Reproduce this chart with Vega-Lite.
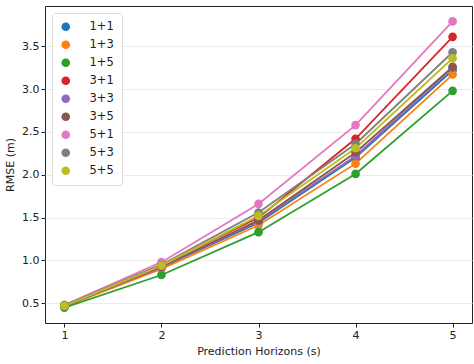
{
  "$schema": "https://vega.github.io/schema/vega-lite/v6.json",
  "width": 427,
  "height": 317,
  "autosize": {"type": "none"},
  "padding": {"left": 45, "top": 6, "right": 2, "bottom": 41},
  "background": "white",
  "config": {
    "font": "DejaVu Sans",
    "view": {"stroke": "#222222", "strokeWidth": 1},
    "axis": {"labelFont": "DejaVu Sans", "titleFont": "DejaVu Sans", "labelFontSize": 11, "titleFontSize": 11, "titleFontWeight": "normal", "labelColor": "#222", "titleColor": "#222", "tickColor": "#222", "domain": false, "tickSize": 4}
  },
  "data": {
    "values": [
      {"h": 1, "s": "1+1", "rmse": 0.47}, {"h": 2, "s": "1+1", "rmse": 0.92}, {"h": 3, "s": "1+1", "rmse": 1.44}, {"h": 4, "s": "1+1", "rmse": 2.2}, {"h": 5, "s": "1+1", "rmse": 3.22},
      {"h": 1, "s": "1+3", "rmse": 0.46}, {"h": 2, "s": "1+3", "rmse": 0.9}, {"h": 3, "s": "1+3", "rmse": 1.41}, {"h": 4, "s": "1+3", "rmse": 2.13}, {"h": 5, "s": "1+3", "rmse": 3.17},
      {"h": 1, "s": "1+5", "rmse": 0.45}, {"h": 2, "s": "1+5", "rmse": 0.83}, {"h": 3, "s": "1+5", "rmse": 1.33}, {"h": 4, "s": "1+5", "rmse": 2.01}, {"h": 5, "s": "1+5", "rmse": 2.98},
      {"h": 1, "s": "3+1", "rmse": 0.47}, {"h": 2, "s": "3+1", "rmse": 0.95}, {"h": 3, "s": "3+1", "rmse": 1.5}, {"h": 4, "s": "3+1", "rmse": 2.42}, {"h": 5, "s": "3+1", "rmse": 3.61},
      {"h": 1, "s": "3+3", "rmse": 0.47}, {"h": 2, "s": "3+3", "rmse": 0.92}, {"h": 3, "s": "3+3", "rmse": 1.46}, {"h": 4, "s": "3+3", "rmse": 2.22}, {"h": 5, "s": "3+3", "rmse": 3.25},
      {"h": 1, "s": "3+5", "rmse": 0.47}, {"h": 2, "s": "3+5", "rmse": 0.93}, {"h": 3, "s": "3+5", "rmse": 1.47}, {"h": 4, "s": "3+5", "rmse": 2.26}, {"h": 5, "s": "3+5", "rmse": 3.26},
      {"h": 1, "s": "5+1", "rmse": 0.48}, {"h": 2, "s": "5+1", "rmse": 0.98}, {"h": 3, "s": "5+1", "rmse": 1.66}, {"h": 4, "s": "5+1", "rmse": 2.58}, {"h": 5, "s": "5+1", "rmse": 3.79},
      {"h": 1, "s": "5+3", "rmse": 0.48}, {"h": 2, "s": "5+3", "rmse": 0.95}, {"h": 3, "s": "5+3", "rmse": 1.56}, {"h": 4, "s": "5+3", "rmse": 2.36}, {"h": 5, "s": "5+3", "rmse": 3.43},
      {"h": 1, "s": "5+5", "rmse": 0.47}, {"h": 2, "s": "5+5", "rmse": 0.94}, {"h": 3, "s": "5+5", "rmse": 1.52}, {"h": 4, "s": "5+5", "rmse": 2.31}, {"h": 5, "s": "5+5", "rmse": 3.36}
    ]
  },
  "mark": {"type": "line", "strokeWidth": 1.8, "point": {"filled": true, "size": 75, "opacity": 1}},
  "encoding": {
    "x": {"field": "h", "type": "quantitative", "title": "Prediction Horizons (s)",
      "scale": {"domain": [0.8, 5.2], "nice": false, "zero": false},
      "axis": {"values": [1, 2, 3, 4, 5], "format": "d", "grid": false, "titlePadding": 5}},
    "y": {"field": "rmse", "type": "quantitative", "title": "RMSE (m)",
      "scale": {"domain": [0.27, 3.97], "nice": false, "zero": false},
      "axis": {"values": [0.5, 1, 1.5, 2, 2.5, 3, 3.5], "format": ".1f", "grid": true, "gridColor": "#ebebeb", "titlePadding": 6}},
    "color": {"field": "s", "type": "nominal",
      "scale": {"domain": ["1+1", "1+3", "1+5", "3+1", "3+3", "3+5", "5+1", "5+3", "5+5"],
        "range": ["#1f77b4", "#ff7f0e", "#2ca02c", "#d62728", "#9467bd", "#8c564b", "#e377c2", "#7f7f7f", "#bcbd22"]},
      "legend": {"title": null, "orient": "top-left", "offset": 7, "symbolType": "circle", "symbolSize": 75, "symbolStrokeWidth": 0, "labelFontSize": 11.5, "labelFont": "DejaVu Sans", "labelColor": "#222", "rowPadding": 5, "labelOffset": 18,
        "fillColor": "white", "strokeColor": "#dddddd", "cornerRadius": 3, "padding": 8}},
    "order": {"field": "h", "type": "quantitative"}
  }
}
